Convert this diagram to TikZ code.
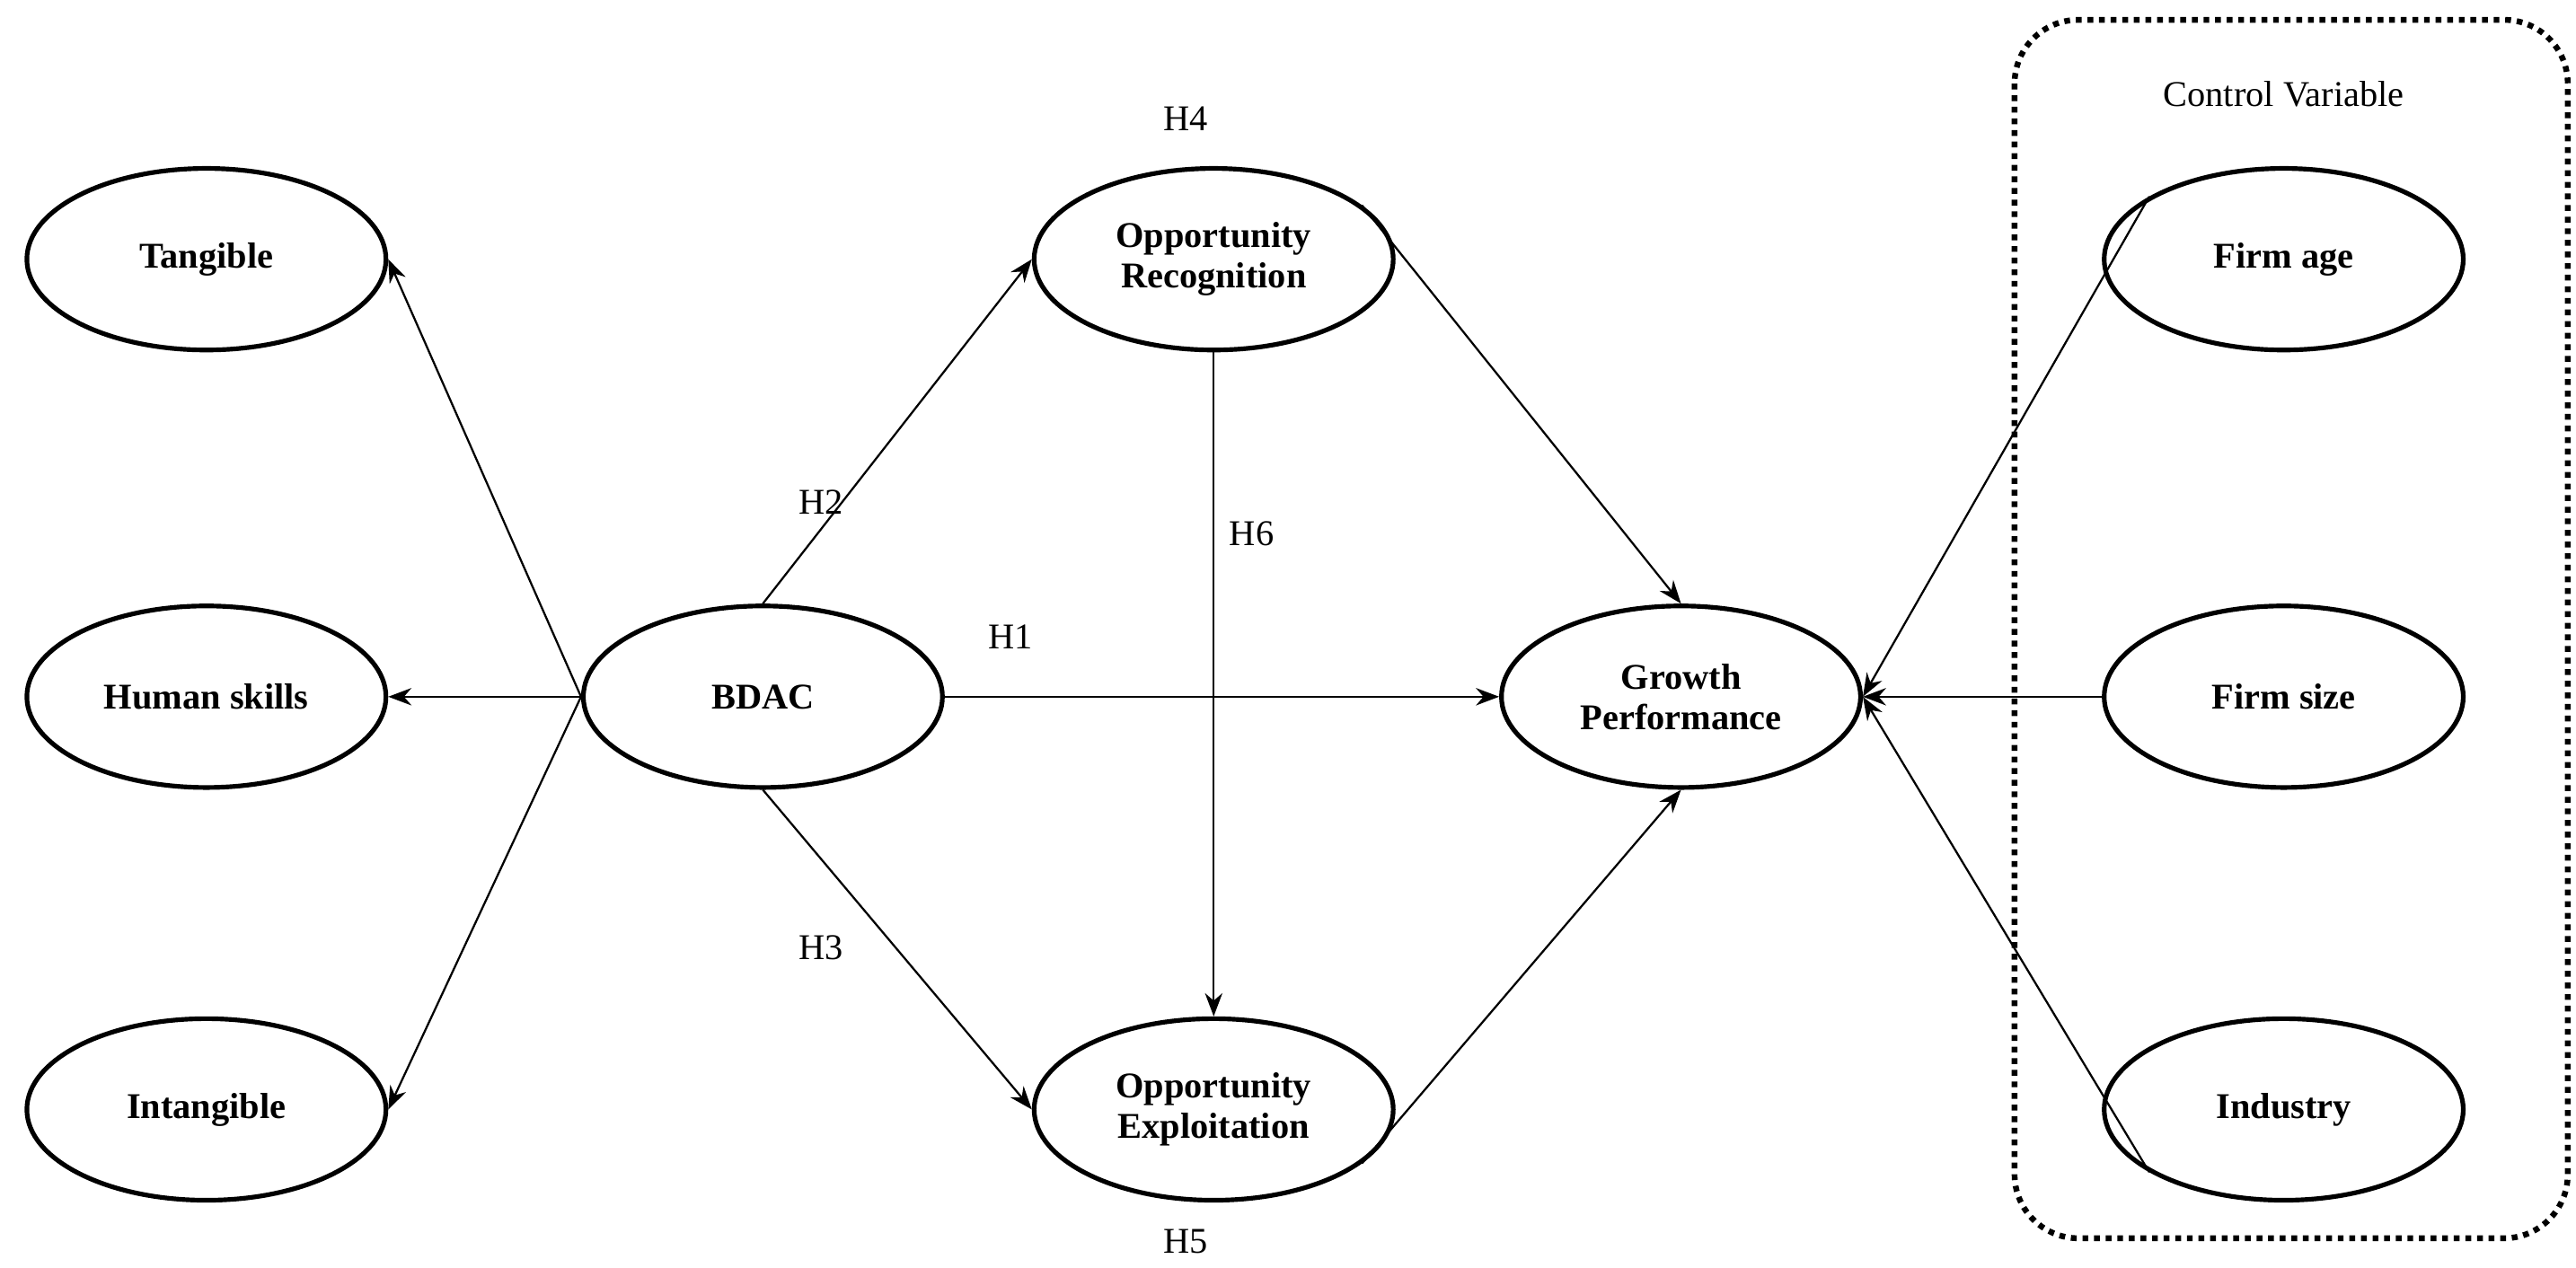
\documentclass[tikz,border=0pt]{standalone}
\usepackage{fontspec}
\setmainfont{Liberation Serif}
\usetikzlibrary{arrows.meta,shapes.geometric}
\begin{document}
\begin{tikzpicture}[x=0.02cm,y=-0.02cm,
 ell/.style={draw,ellipse,line width=1.6pt,minimum width=4.35cm,minimum height=2.2cm,font=\fontsize{12.5}{14}\selectfont\bfseries,align=center,inner sep=0pt},
 lab/.style={font=\fontsize{12.5}{14}\selectfont},
 arr/.style={-{Stealth[length=8pt,width=6pt]},line width=0.7pt}]
\useasboundingbox (0,0) rectangle (1560,768);
\draw[dotted,line width=2pt,rounded corners=22pt] (1220,12) rectangle (1555,750);
\node[lab] (cv) at (1383,57) {Control Variable};
\node[ell] (tang) at (125,157) {Tangible};
\node[ell] (hum) at (125,422) {Human skills};
\node[ell] (intg) at (125,672) {Intangible};
\node[ell] (bdac) at (462,422) {BDAC};
\node[ell] (or) at (735,157) {Opportunity\\Recognition};
\node[ell] (oe) at (735,672) {Opportunity\\Exploitation};
\node[ell] (gp) at (1018,422) {Growth\\Performance};
\node[ell] (fa) at (1383,157) {Firm age};
\node[ell] (fs) at (1383,422) {Firm size};
\node[ell] (ind) at (1383,672) {Industry};
\node[lab] (h4) at (718,72) {H4};
\node[lab] (h2) at (497,304) {H2};
\node[lab] (h6) at (758,323) {H6};
\node[lab] (h1) at (612,386) {H1};
\node[lab] (h3) at (497,574) {H3};
\node[lab] (h5) at (718,752) {H5};
\draw[arr] (bdac.west) -- (tang.east);
\draw[arr] (bdac.west) -- (hum.east);
\draw[arr] (bdac.west) -- (intg.east);
\draw[arr] (bdac.north) -- (or.west);
\draw[arr] (bdac.south) -- (oe.west);
\draw[arr] (bdac.east) -- (gp.west);
\draw[arr] (or.south) -- (oe.north);
\draw[arr] (or.20) -- (gp.north);
\draw[arr] (oe.-20) -- (gp.south);
\draw[arr] (fa.155) -- (gp.east);
\draw[arr] (fs.west) -- (gp.east);
\draw[arr] (ind.205) -- (gp.east);
\end{tikzpicture}
\end{document}
